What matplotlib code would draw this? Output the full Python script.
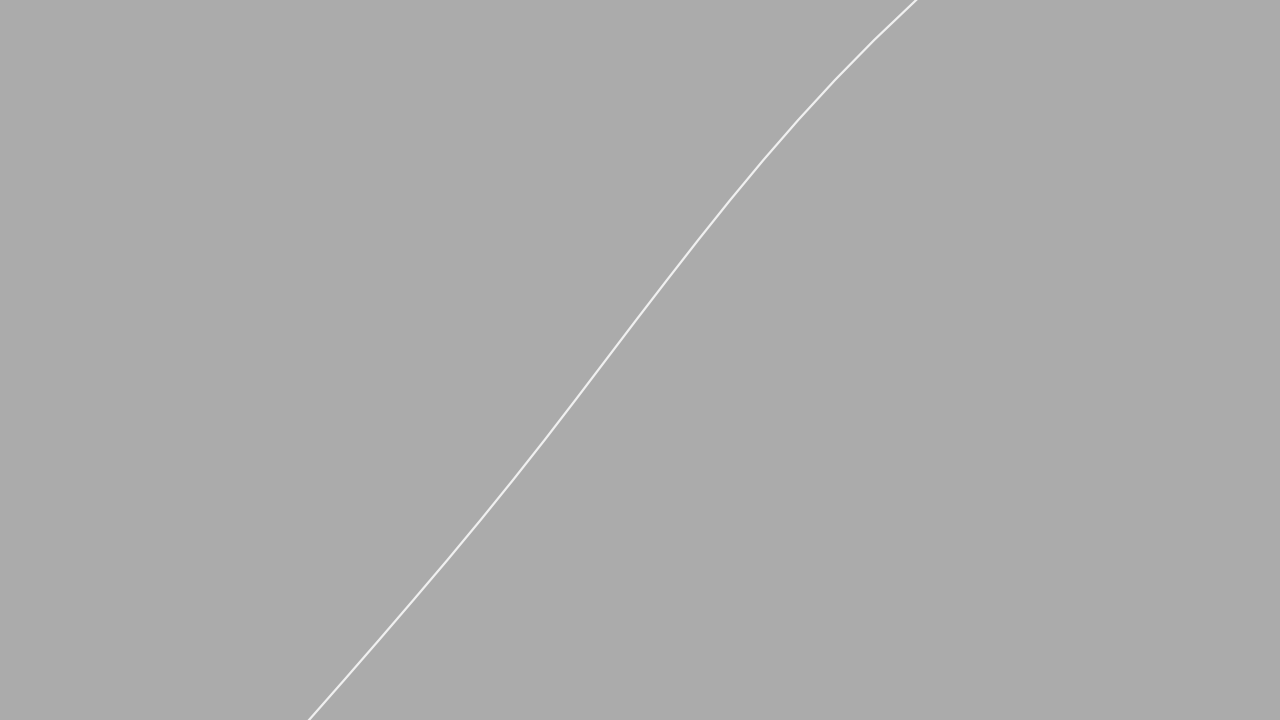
import matplotlib
matplotlib.use("Agg")
import matplotlib.pyplot as plt

# curve values (horizontal position, height)
x_vals = [291.4, 309.0, 344.2, 379.0, 413.4, 447.4, 480.6, 513.0, 544.6, 575.4,
          605.8, 636.2, 667.0, 698.2, 730.2, 763.4, 798.2, 835.0, 874.2, 916.2, 937.2]
y_vals = [-20, 0, 40, 80, 120, 160, 200, 240, 280, 320,
          360, 400, 440, 480, 520, 560, 600, 640, 680, 720, 740]

BG = "#ababab"
LINE = "#f0f0f0"

fig = plt.figure(figsize=(12.8, 7.2), dpi=100, facecolor=BG)
ax = fig.add_axes([0, 0, 1, 1])
ax.set_facecolor(BG)
ax.plot(x_vals, y_vals, color=LINE, linewidth=1.6, solid_capstyle="round",
        solid_joinstyle="round", antialiased=True)
ax.set_xlim(0, 1280)
ax.set_ylim(0, 720)
ax.axis("off")
fig.savefig("out.png", dpi=100, facecolor=BG)
